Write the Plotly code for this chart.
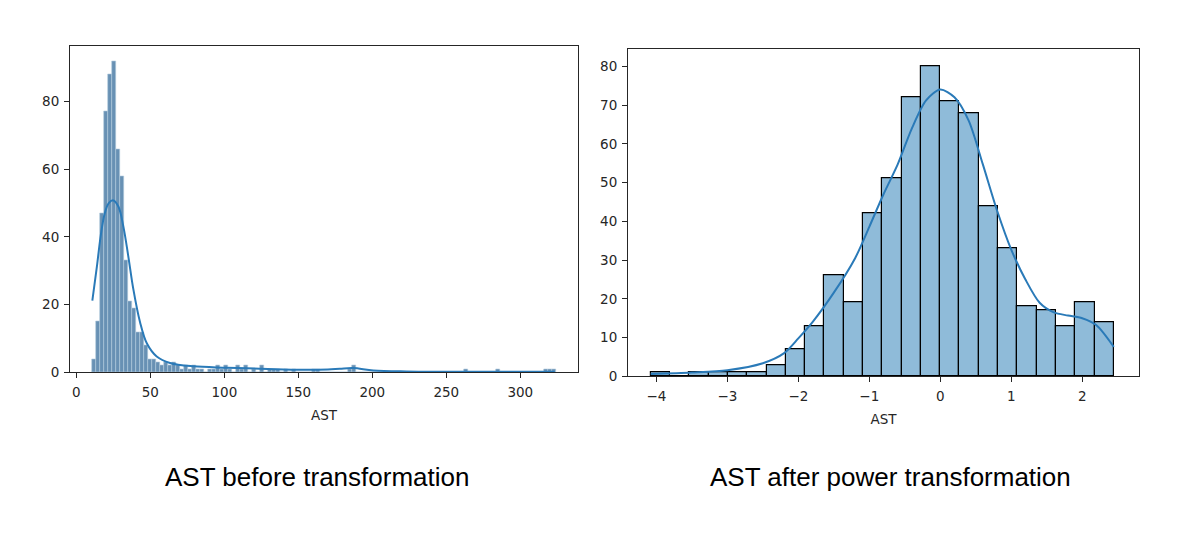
import numpy as np
import plotly.graph_objects as go

# ---------------- data ----------------
# Left: AST before transformation (histogram, bin start / width, counts)
left_bin_start = 10.8
left_bin_width = 2.7
left_counts = [4, 15, 47, 77, 88, 92, 66, 58, 33, 21,
               19, 12, 12, 8, 4, 4, 3, 2, 3, 2,
               3, 2, 1, 2, 1, 2, 1, 1, 0, 1,
               1, 2, 1, 2, 1, 0, 2, 1, 2, 0,
               1, 0, 2, 0, 1, 1, 1, 0, 1, 0,
               1, 0, 0, 0, 0, 1, 1, 0, 0, 0,
               0, 0, 0, 0, 1, 2, 0, 0, 0, 0,
               0, 0, 0, 0, 0, 0, 0, 0, 0, 0,
               0, 0, 0, 0, 0, 0, 0, 0, 0, 0,
               0, 0, 0, 1, 0, 0, 0, 0, 0, 0,
               0, 1, 0, 0, 0, 0, 0, 0, 0, 0,
               0, 0, 0, 1, 1, 1]
left_kde_x = [10.8, 13.8, 16.5, 19.2, 21.9, 25.0, 28.4, 31.8, 35.1, 38.5,
              43.0, 47.6, 54.3, 63.3, 79.0, 101.6, 124.0, 140.0, 155.7,
              170.0, 178.0, 187.0, 200.7, 223.0, 260.0, 300.0, 323.3]
left_kde_y = [21.2, 31.0, 40.5, 47.0, 50.0, 50.8, 49.0, 43.0, 34.3, 24.6,
              14.9, 8.6, 4.7, 2.8, 1.8, 1.4, 1.1, 0.9, 0.8,
              0.9, 1.1, 1.3, 0.6, 0.3, 0.2, 0.2, 0.2]
left_xticks = [0, 50, 100, 150, 200, 250, 300]
left_yticks = [0, 20, 40, 60, 80]

# Right: AST after power transformation
right_bin_start = -4.08
right_bin_width = 0.2719
right_counts = [1, 0, 1, 1, 1, 1, 3, 7, 13, 26, 19, 42, 51, 72, 80, 71,
                68, 44, 33, 18, 17, 13, 19, 14]
right_kde_x = [-4.08, -3.5, -3.0, -2.5, -2.2, -2.0, -1.8, -1.5, -1.2, -1.0,
               -0.8, -0.6, -0.4, -0.2, 0.0, 0.2, 0.4, 0.6, 0.8, 1.0,
               1.2, 1.4, 1.6, 1.8, 2.0, 2.2, 2.445]
right_kde_y = [0.6, 1.0, 1.6, 3.4, 6.0, 9.8, 14.0, 21.6, 30.5, 38.6,
               47.0, 54.7, 64.0, 71.2, 74.0, 72.0, 66.0, 54.7, 42.8, 32.7,
               25.0, 19.0, 16.5, 15.7, 15.0, 13.2, 7.6]
right_xticks = [-4, -3, -2, -1, 0, 1, 2]
right_yticks = [0, 10, 20, 30, 40, 50, 60, 70, 80]

left_title = "AST before transformation"
right_title = "AST after power transformation"
x_label = "AST"

# ---------------- figure ----------------
W, H = 1200, 546

def dom_x(a, b):
    return [a / W, b / W]

def dom_y(top, bottom):
    return [(H - bottom) / H, (H - top) / H]

left_centers = left_bin_start + left_bin_width * (np.arange(len(left_counts)) + 0.5)
right_centers = right_bin_start + right_bin_width * (np.arange(len(right_counts)) + 0.5)

fig = go.Figure()
fig.add_trace(go.Bar(x=left_centers, y=left_counts, width=left_bin_width,
                     marker=dict(color="rgba(104,145,180,1)",
                                 line=dict(color="rgba(180,203,222,1)", width=0.6)),
                     xaxis="x", yaxis="y", showlegend=False))
fig.add_trace(go.Scatter(x=left_kde_x, y=left_kde_y, mode="lines",
                         line=dict(color="#2a7ab8", width=2, shape="spline", smoothing=1.0),
                         xaxis="x", yaxis="y", showlegend=False))
fig.add_trace(go.Bar(x=right_centers, y=right_counts, width=right_bin_width,
                     marker=dict(color="rgb(143,187,217)",
                                 line=dict(color="black", width=1.2)),
                     xaxis="x2", yaxis="y2", showlegend=False))
fig.add_trace(go.Scatter(x=right_kde_x, y=right_kde_y, mode="lines",
                         line=dict(color="#2a7ab8", width=2, shape="spline", smoothing=0.8),
                         xaxis="x2", yaxis="y2", showlegend=False))

tickfont = dict(family="DejaVu Sans", size=13.5, color="#262626")
axcommon = dict(showline=True, linecolor="#262626", linewidth=1, mirror=True,
                ticks="outside", ticklen=5, tickcolor="#262626", tickwidth=1,
                ticklabelstandoff=2,
                showgrid=False, zeroline=False, tickfont=tickfont)

fig.update_layout(
    width=W, height=H,
    margin=dict(l=0, r=0, t=0, b=0),
    paper_bgcolor="white", plot_bgcolor="white",
    bargap=0,
    xaxis=dict(domain=dom_x(70, 578), range=[-4.3, 339], tickvals=left_xticks,
               anchor="y", title=dict(text=x_label, font=tickfont, standoff=11), **axcommon),
    yaxis=dict(domain=dom_y(47, 378), range=[0, 96.3], tickvals=left_yticks,
               anchor="x", **axcommon),
    xaxis2=dict(domain=dom_x(628, 1139), range=[-4.40, 2.80], tickvals=right_xticks,
                anchor="y2", title=dict(text=x_label, font=tickfont, standoff=11), **axcommon),
    yaxis2=dict(domain=dom_y(50, 382), range=[0, 84.4], tickvals=right_yticks,
                anchor="x2", **axcommon),
    annotations=[
        dict(text=left_title, x=317 / W, y=(H - 484) / H, xref="paper", yref="paper",
             xanchor="center", yanchor="middle",
             showarrow=False, font=dict(family="Liberation Sans", size=26, color="black")),
        dict(text=right_title, x=890 / W, y=(H - 484) / H, xref="paper", yref="paper",
             xanchor="center", yanchor="middle",
             showarrow=False, font=dict(family="Liberation Sans", size=26, color="black")),
    ],
)

fig.write_html("out.html")
